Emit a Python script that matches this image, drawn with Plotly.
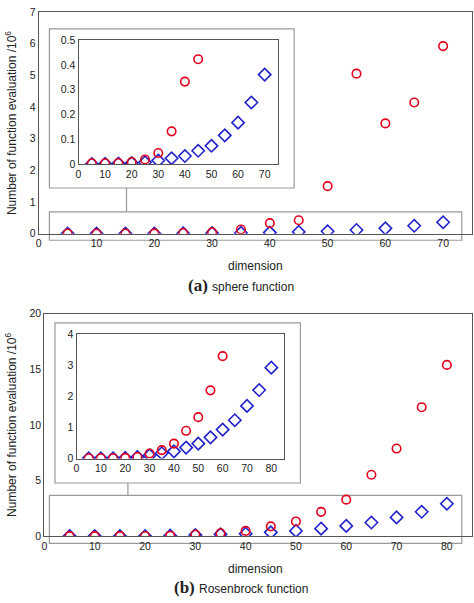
import plotly.graph_objects as go

# sphere function (a)
dim_a = [5, 10, 15, 20, 25, 30, 35, 40, 45, 50, 55, 60, 65, 70]
red_a = [0.005, 0.005, 0.006, 0.01, 0.02, 0.046, 0.133, 0.333, 0.423, 1.5, 5.05, 3.48, 4.14, 5.92]
blue_a = [0.002, 0.003, 0.004, 0.006, 0.009, 0.016, 0.025, 0.034, 0.055, 0.075, 0.117, 0.168, 0.249, 0.361]

# Rosenbrock function (b)
dim_b = [5, 10, 15, 20, 25, 30, 35, 40, 45, 50, 55, 60, 65, 70, 75, 80]
red_b = [0.01, 0.01, 0.01, 0.02, 0.05, 0.16, 0.27, 0.48, 0.89, 1.33, 2.19, 3.29, 5.53, 7.88, 11.6, 15.4]
blue_b = [0.01, 0.01, 0.01, 0.02, 0.05, 0.10, 0.17, 0.23, 0.35, 0.48, 0.68, 0.93, 1.23, 1.69, 2.2, 2.92]

W, H = 474, 603
RED = "#e3001b"
BLUE = "#2222cc"
FRAME = "#555555"
BOXGRAY = "#9a9a9a"


def px(x):
    return x / W


def py(y):
    return 1 - y / H


fig = go.Figure()


def add_series(x, y, xa, ya, kind):
    if kind == "d":
        m = dict(symbol="diamond-open", size=9.5, color=BLUE, line=dict(width=1.6, color=BLUE))
    else:
        m = dict(symbol="circle-open", size=8.5, color=RED, line=dict(width=1.6, color=RED))
    fig.add_trace(go.Scatter(x=x, y=y, mode="markers", xaxis=xa, yaxis=ya, marker=m,
                             cliponaxis=True))


# main (a) and its inset; red circles drawn on top of blue diamonds
add_series(dim_a, blue_a, "x", "y", "d")
add_series(dim_a, red_a, "x", "y", "c")
add_series(dim_a, blue_a, "x2", "y2", "d")
add_series(dim_a[:9], red_a[:9], "x2", "y2", "c")

# main (b) and its inset
add_series(dim_b, blue_b, "x3", "y3", "d")
add_series(dim_b, red_b, "x3", "y3", "c")
add_series(dim_b, blue_b, "x4", "y4", "d")
add_series(dim_b[:12], red_b[:12], "x4", "y4", "c")

tickfont = dict(family="Liberation Sans, Arial, sans-serif", size=10.5, color="#222")
ax_common = dict(showgrid=False, zeroline=False, showline=True, mirror=True,
                 linecolor=FRAME, linewidth=1.3, ticks="", tickfont=tickfont,
                 fixedrange=True)

fig.update_layout(
    width=W, height=H,
    margin=dict(l=0, r=0, t=0, b=0),
    paper_bgcolor="white", plot_bgcolor="rgba(0,0,0,0)",
    showlegend=False,
    xaxis=dict(domain=[px(36), px(472)], range=[0, 75], tickvals=list(range(0, 71, 10)),
               anchor="y", **ax_common),
    yaxis=dict(domain=[py(232.3), py(6)], range=[0, 7], dtick=1, anchor="x", **ax_common),
    xaxis2=dict(domain=[px(76), px(276.7)], range=[0, 75], tickvals=list(range(0, 71, 10)),
                anchor="y2", **ax_common),
    yaxis2=dict(domain=[py(161.7), py(34.7)], range=[0, 0.5], dtick=0.1, anchor="x2",
                **ax_common),
    xaxis3=dict(domain=[px(41.7), px(472)], range=[0, 85], tickvals=list(range(0, 81, 10)),
                anchor="y3", **ax_common),
    yaxis3=dict(domain=[py(541), py(314)], range=[0, 20], dtick=5, anchor="x3", **ax_common),
    xaxis4=dict(domain=[px(74), px(282.3)], range=[0, 85], tickvals=list(range(0, 81, 10)),
                anchor="y4", **ax_common),
    yaxis4=dict(domain=[py(461.7), py(334.7)], range=[0, 4], dtick=1, anchor="x4",
                **ax_common),
)

# inset frames, zoom boxes and connectors (light gray)
shapes = []
for (x0, y0, x1, y1) in [(46.7, 23.3, 293, 185.7), (46.7, 210, 461.7, 239),
                         (52.3, 323.3, 299.3, 486.7), (46.7, 499.3, 461.7, 548.3)]:
    shapes.append(dict(type="rect", xref="paper", yref="paper",
                       x0=px(x0), x1=px(x1), y0=py(y1), y1=py(y0),
                       line=dict(color=BOXGRAY, width=1.2), layer="below"))
for (x, y0, y1) in [(124.3, 185.7, 210), (125.7, 486.7, 499.3)]:
    shapes.append(dict(type="line", xref="paper", yref="paper",
                       x0=px(x), x1=px(x), y0=py(y1), y1=py(y0),
                       line=dict(color=BOXGRAY, width=1.2)))
fig.update_layout(shapes=shapes)

sans = "Liberation Sans, Arial, sans-serif"
serif = "Liberation Serif, Times New Roman, serif"
ann = []
ytitle = "Number of function evaluation /10<sup>6</sup>"
for yc in [119, 427]:
    ann.append(dict(text=ytitle, x=px(7.5), y=py(yc), textangle=-90,
                    font=dict(family=sans, size=12, color="#222")))
for yc in [265.5, 574]:
    ann.append(dict(text="dimension", x=px(254), y=py(yc),
                    font=dict(family=sans, size=12, color="#222")))
ann.append(dict(text="<b>(a)</b> <span style='font-family:Liberation Sans;font-size:12px'>sphere function</span>",
                x=px(240), y=py(285.5), font=dict(family=serif, size=17, color="#222")))
ann.append(dict(text="<b>(b)</b> <span style='font-family:Liberation Sans;font-size:12px'>Rosenbrock function</span>",
                x=px(240), y=py(593), font=dict(family=serif, size=17, color="#222")))
for a in ann:
    a.update(xref="paper", yref="paper", showarrow=False, xanchor="center", yanchor="middle")
fig.update_layout(annotations=ann)

fig.write_html("out.html", config={"displayModeBar": False},
               post_script="document.body.style.margin='0';")
